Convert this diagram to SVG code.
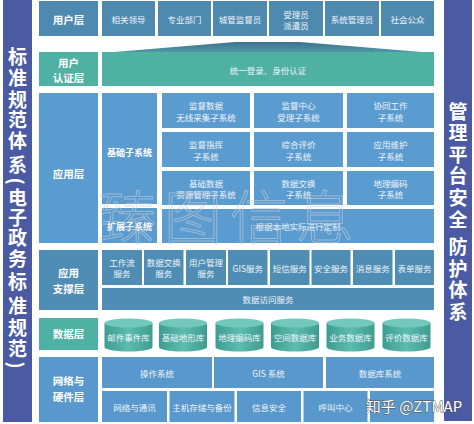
<svg xmlns="http://www.w3.org/2000/svg" width="474" height="424" viewBox="0 0 474 424">
<defs>
<style>
text{font-family:"Noto Sans CJK SC","Noto Sans",sans-serif;text-anchor:middle;dominant-baseline:central}
.t{font-size:8.5px;fill:#eef4fa}
.lb{font-size:10.5px;font-weight:bold;fill:#ffffff}
.sb{font-size:9px;font-weight:bold;fill:#ffffff}
.bar{fill:#4b5ba3}
.vt{font-size:19px;fill:#ffffff;font-weight:bold}
.u{fill:#4e8ab0}
.tl{fill:#4fb0a4}
.ap{fill:#5a9bd0}
.sp{fill:#4f8db5}
.nw{fill:#5898cc}
.cyl{fill:url(#cg)}
.cap{fill:#72c8bb}
</style>
<linearGradient id="cg" x1="0" y1="0" x2="1" y2="0">
<stop offset="0" stop-color="#3f9c90"/>
<stop offset="0.5" stop-color="#5cbcaf"/>
<stop offset="1" stop-color="#3f9c90"/>
</linearGradient>
<linearGradient id="rg" x1="0" y1="0" x2="0" y2="1">
<stop offset="0" stop-color="#3f6f92"/>
<stop offset="1" stop-color="#4f9ea2"/>
</linearGradient>
</defs>
<rect width="474" height="424" fill="#ffffff"/>

<g id="left-bar">
<rect class="bar" x="3" y="0" width="29" height="422"/>
<text class="vt" x="17.5" y="55">标</text>
<text class="vt" x="17.5" y="76">准</text>
<text class="vt" x="17.5" y="98">规</text>
<text class="vt" x="17.5" y="118">范</text>
<text class="vt" x="17.5" y="139">体</text>
<text class="vt" x="17.5" y="163">系</text>
<text class="vt" transform="translate(17.5,181) rotate(90)" x="0" y="0">(</text>
<text class="vt" x="17.5" y="196">电</text>
<text class="vt" x="17.5" y="216">子</text>
<text class="vt" x="17.5" y="236">政</text>
<text class="vt" x="17.5" y="257">务</text>
<text class="vt" x="17.5" y="280">标</text>
<text class="vt" x="17.5" y="304">准</text>
<text class="vt" x="17.5" y="326">规</text>
<text class="vt" x="17.5" y="347">范</text>
<text class="vt" transform="translate(17.5,365) rotate(90)" x="0" y="0">)</text>
</g>

<g id="right-bar">
<rect class="bar" x="444" y="0" width="28" height="421"/>
<text class="vt" x="458" y="110">管</text>
<text class="vt" x="458" y="131">理</text>
<text class="vt" x="458" y="153">平</text>
<text class="vt" x="458" y="174">台</text>
<text class="vt" x="458" y="196">安</text>
<text class="vt" x="458" y="218">全</text>
<text class="vt" x="458" y="245">防</text>
<text class="vt" x="458" y="267">护</text>
<text class="vt" x="458" y="288">体</text>
<text class="vt" x="458" y="310">系</text>
</g>

<g id="user-layer">
<rect class="u" x="39" y="1" width="59" height="35"/>
<text class="lb" x="68.5" y="19">用户层</text>
</g>
<g id="u1"><rect class="u" x="102" y="1" width="53" height="35"/><text class="t" x="128.5" y="18.5">相关领导</text></g>
<g id="u2"><rect class="u" x="158" y="1" width="53" height="35"/><text class="t" x="184.5" y="18.5">专业部门</text></g>
<g id="u3"><rect class="u" x="213" y="1" width="54" height="35"/><text class="t" x="240" y="18.5">城管监督员</text></g>
<g id="u4"><rect class="u" x="269" y="1" width="54" height="35"/><text class="t" x="296" y="13.5">受理员</text><text class="t" x="296" y="24.5">派遣员</text></g>
<g id="u5"><rect class="u" x="325" y="1" width="54" height="35"/><text class="t" x="352" y="18.5">系统管理员</text></g>
<g id="u6"><rect class="u" x="381" y="1" width="53" height="35"/><text class="t" x="407.5" y="18.5">社会公众</text></g>

<g id="auth-layer">
<polygon points="102,53 235,42 300,42 434,53" fill="url(#rg)"/>
<rect class="tl" x="39" y="52" width="59" height="34"/>
<text class="lb" x="68.5" y="62">用户</text>
<text class="lb" x="68.5" y="77">认证层</text>
</g>
<g id="auth"><rect class="tl" x="102" y="52" width="332" height="34"/><text class="t" x="268" y="70">统一登录、身份认证</text></g>

<g id="app-layer">
<rect class="ap" x="39" y="93" width="59" height="150"/>
<text class="lb" x="68.5" y="173">应用层</text>
</g>
<g id="basic"><rect class="ap" x="102" y="93" width="55" height="111"/><text class="sb" x="129.5" y="152">基础子系统</text></g>
<g id="ext"><rect class="ap" x="102" y="208" width="55" height="35"/><text class="sb" x="129.5" y="226">扩展子系统</text></g>
<g id="s11"><rect class="ap" x="162" y="93" width="88" height="35"/><text class="t" x="206" y="105">监督数据</text><text class="t" x="206" y="116.5">无线采集子系统</text></g>
<g id="s12"><rect class="ap" x="254" y="93" width="89" height="35"/><text class="t" x="298.5" y="105">监督中心</text><text class="t" x="298.5" y="116.5">受理子系统</text></g>
<g id="s13"><rect class="ap" x="347" y="93" width="87" height="35"/><text class="t" x="390.5" y="105">协同工作</text><text class="t" x="390.5" y="116.5">子系统</text></g>
<g id="s21"><rect class="ap" x="162" y="132" width="88" height="35"/><text class="t" x="206" y="144">监督指挥</text><text class="t" x="206" y="155.5">子系统</text></g>
<g id="s22"><rect class="ap" x="254" y="132" width="89" height="35"/><text class="t" x="298.5" y="144">综合评价</text><text class="t" x="298.5" y="155.5">子系统</text></g>
<g id="s23"><rect class="ap" x="347" y="132" width="87" height="35"/><text class="t" x="390.5" y="144">应用维护</text><text class="t" x="390.5" y="155.5">子系统</text></g>
<g id="s31"><rect class="ap" x="162" y="171" width="88" height="34"/><text class="t" x="206" y="182.5">基础数据</text><text class="t" x="206" y="194">资源管理子系统</text></g>
<g id="s32"><rect class="ap" x="254" y="171" width="89" height="34"/><text class="t" x="298.5" y="182.5">数据交换</text><text class="t" x="298.5" y="194">子系统</text></g>
<g id="s33"><rect class="ap" x="347" y="171" width="87" height="34"/><text class="t" x="390.5" y="182.5">地理编码</text><text class="t" x="390.5" y="194">子系统</text></g>
<g id="custom"><rect class="ap" x="162" y="209" width="272" height="34"/><text class="t" x="298" y="226">根据本地实际进行定制</text></g>

<g id="watermark">
<text x="230" y="214" style="font-size:58px;fill:none;stroke:#c9cfd6;stroke-width:1;opacity:0.6;letter-spacing:8px;font-weight:300">臻图信息</text>
</g>

<g id="support-layer">
<rect class="sp" x="39" y="250" width="59" height="60"/>
<text class="lb" x="68.5" y="272">应用</text>
<text class="lb" x="68.5" y="288">支撑层</text>
</g>
<g id="sv1"><rect class="sp" x="102" y="250" width="40" height="35"/><text class="t" x="122" y="262">工作流</text><text class="t" x="122" y="273">服务</text></g>
<g id="sv2"><rect class="sp" x="144" y="250" width="39.5" height="35"/><text class="t" x="163.8" y="262">数据交换</text><text class="t" x="163.8" y="273">服务</text></g>
<g id="sv3"><rect class="sp" x="186" y="250" width="40" height="35"/><text class="t" x="206" y="262">用户管理</text><text class="t" x="206" y="273">服务</text></g>
<g id="sv4"><rect class="sp" x="228" y="250" width="39.5" height="35"/><text class="t" x="247.8" y="267.5">GIS服务</text></g>
<g id="sv5"><rect class="sp" x="270" y="250" width="39.5" height="35"/><text class="t" x="289.8" y="267.5">短信服务</text></g>
<g id="sv6"><rect class="sp" x="311.5" y="250" width="39" height="35"/><text class="t" x="331" y="267.5">安全服务</text></g>
<g id="sv7"><rect class="sp" x="353" y="250" width="39.5" height="35"/><text class="t" x="372.8" y="267.5">消息服务</text></g>
<g id="sv8"><rect class="sp" x="395" y="250" width="39" height="35"/><text class="t" x="414.5" y="267.5">表单服务</text></g>
<g id="dao"><rect class="sp" x="102" y="288" width="332" height="22"/><text class="t" x="268" y="298.5">数据访问服务</text></g>

<g id="data-layer">
<rect class="tl" x="39" y="318" width="59" height="32"/>
<text class="lb" x="68.5" y="333.5">数据层</text>
</g>
<g id="db1"><path class="cyl" d="M104.5,323 v24 a24,4.5 0 0 0 48,0 v-24 z"/><ellipse class="cap" cx="128.5" cy="323" rx="24" ry="4.5"/><text class="t" x="128.5" y="337">邮件事件库</text></g>
<g id="db2"><path class="cyl" d="M159,323 v24 a24,4.5 0 0 0 48,0 v-24 z"/><ellipse class="cap" cx="183" cy="323" rx="24" ry="4.5"/><text class="t" x="183" y="337">基础地形库</text></g>
<g id="db3"><path class="cyl" d="M215.5,323 v24 a24,4.5 0 0 0 48,0 v-24 z"/><ellipse class="cap" cx="239.5" cy="323" rx="24" ry="4.5"/><text class="t" x="239.5" y="337">地理编码库</text></g>
<g id="db4"><path class="cyl" d="M271,323 v24 a24,4.5 0 0 0 48,0 v-24 z"/><ellipse class="cap" cx="295" cy="323" rx="24" ry="4.5"/><text class="t" x="295" y="337">空间数据库</text></g>
<g id="db5"><path class="cyl" d="M326.5,323 v24 a24,4.5 0 0 0 48,0 v-24 z"/><ellipse class="cap" cx="350.5" cy="323" rx="24" ry="4.5"/><text class="t" x="350.5" y="337">业务数据库</text></g>
<g id="db6"><path class="cyl" d="M382.5,323 v24 a24,4.5 0 0 0 48,0 v-24 z"/><ellipse class="cap" cx="406.5" cy="323" rx="24" ry="4.5"/><text class="t" x="406.5" y="337">评价数据库</text></g>

<g id="net-layer">
<rect class="nw" x="39" y="357" width="59" height="65"/>
<text class="lb" x="68.5" y="380">网络与</text>
<text class="lb" x="68.5" y="396">硬件层</text>
</g>
<g id="os"><rect class="nw" x="102" y="357" width="110" height="31"/><text class="t" x="157" y="372.5">操作系统</text></g>
<g id="gis"><rect class="nw" x="214" y="357" width="109" height="31"/><text class="t" x="268.5" y="372.5">GIS 系统</text></g>
<g id="dbs"><rect class="nw" x="326" y="357" width="108" height="31"/><text class="t" x="380" y="372.5">数据库系统</text></g>
<g id="n1"><rect class="nw" x="102" y="391" width="65" height="31"/><text class="t" x="134.5" y="406.5">网络与通讯</text></g>
<g id="n2"><rect class="nw" x="169.5" y="391" width="65" height="31"/><text class="t" x="202" y="406.5">主机存储与备份</text></g>
<g id="n3"><rect class="nw" x="237" y="391" width="64" height="31"/><text class="t" x="269" y="406.5">信息安全</text></g>
<g id="n4"><rect class="nw" x="303.5" y="391" width="64" height="31"/><text class="t" x="335.5" y="406.5">呼叫中心</text></g>
<g id="n5"><rect class="nw" x="370" y="391" width="64" height="31"/></g>

<g id="watermark-zhihu">
<text x="414" y="405" style="font-size:15px;fill:#ffffff;stroke:#4a4a4a;stroke-width:0.8;paint-order:stroke">知乎 @ZTMAP</text>
</g>

<g id="connectors"></g>
</svg>
